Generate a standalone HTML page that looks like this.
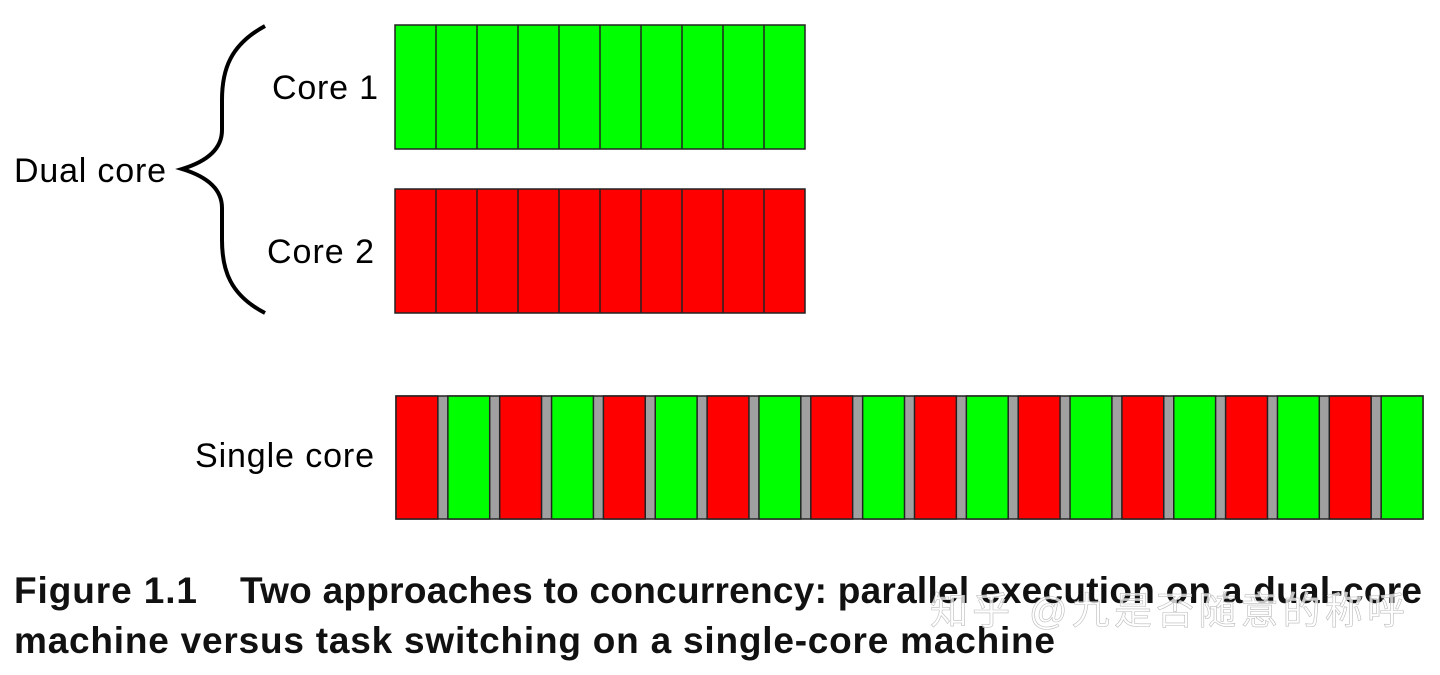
<!DOCTYPE html>
<html><head><meta charset="utf-8"><style>
body{margin:0;background:#fff;width:1440px;height:675px;overflow:hidden}
svg{display:block}
</style></head><body>
<svg width="1440" height="675" xmlns="http://www.w3.org/2000/svg" font-family="Liberation Sans, sans-serif">
<rect width="1440" height="675" fill="#fff"/>
<g stroke="#222" stroke-width="1.5">
<rect x="395" y="25" width="410" height="124" fill="#00ff00"/>
<rect x="395" y="189" width="410" height="124" fill="#ff0000"/>
<g id="lines">
<line x1="436" y1="25" x2="436" y2="149"/><line x1="477" y1="25" x2="477" y2="149"/><line x1="518" y1="25" x2="518" y2="149"/><line x1="559" y1="25" x2="559" y2="149"/><line x1="600" y1="25" x2="600" y2="149"/><line x1="641" y1="25" x2="641" y2="149"/><line x1="682" y1="25" x2="682" y2="149"/><line x1="723" y1="25" x2="723" y2="149"/><line x1="764" y1="25" x2="764" y2="149"/>
</g>
<use href="#lines" transform="translate(0,164)"/>
</g>
<g stroke="#222" stroke-width="1.5">
<rect x="396" y="396" width="1027" height="123" fill="#a0a0a0"/>
<rect x="396" y="396" width="41.85" height="123" fill="#ff0000"/>
<rect x="447.85" y="396" width="41.85" height="123" fill="#00ff00"/>
<rect x="499.7" y="396" width="41.85" height="123" fill="#ff0000"/>
<rect x="551.55" y="396" width="41.85" height="123" fill="#00ff00"/>
<rect x="603.4" y="396" width="41.85" height="123" fill="#ff0000"/>
<rect x="655.25" y="396" width="41.85" height="123" fill="#00ff00"/>
<rect x="707.1" y="396" width="41.85" height="123" fill="#ff0000"/>
<rect x="758.95" y="396" width="41.85" height="123" fill="#00ff00"/>
<rect x="810.8" y="396" width="41.85" height="123" fill="#ff0000"/>
<rect x="862.65" y="396" width="41.85" height="123" fill="#00ff00"/>
<rect x="914.5" y="396" width="41.85" height="123" fill="#ff0000"/>
<rect x="966.35" y="396" width="41.85" height="123" fill="#00ff00"/>
<rect x="1018.2" y="396" width="41.85" height="123" fill="#ff0000"/>
<rect x="1070.05" y="396" width="41.85" height="123" fill="#00ff00"/>
<rect x="1121.9" y="396" width="41.85" height="123" fill="#ff0000"/>
<rect x="1173.75" y="396" width="41.85" height="123" fill="#00ff00"/>
<rect x="1225.6" y="396" width="41.85" height="123" fill="#ff0000"/>
<rect x="1277.45" y="396" width="41.85" height="123" fill="#00ff00"/>
<rect x="1329.3" y="396" width="41.85" height="123" fill="#ff0000"/>
<rect x="1381.15" y="396" width="41.85" height="123" fill="#00ff00"/>
</g>
<path d="M265,26 C230,45 222,70 222,100 L222,130 C222,150 205,162 182,169 C205,176 222,188 222,208 L222,240 C222,270 230,295 265,313" fill="none" stroke="#000" stroke-width="4"/>
<g font-size="34" fill="#000">
<text x="272" y="99" textLength="106">Core 1</text>
<text x="267" y="263" textLength="107">Core 2</text>
<text x="14" y="182" textLength="152">Dual core</text>
<text x="195" y="467" textLength="179">Single core</text>
</g>
<g font-size="37" font-weight="bold" fill="#111">
<text x="14" y="603" textLength="183">Figure 1.1</text>
<text x="240" y="603" textLength="1182">Two approaches to concurrency: parallel execution on a dual-core</text>
<text x="14" y="653" textLength="1041">machine versus task switching on a single-core machine</text>
</g>
<text x="930" y="624" font-size="38" textLength="475" fill="#fff" fill-opacity="0.75" stroke="#bbb" stroke-width="0.6" font-family="Liberation Sans, Noto Sans CJK SC, sans-serif">知乎 @九是否随意的称呼</text>
</svg>
</body></html>
